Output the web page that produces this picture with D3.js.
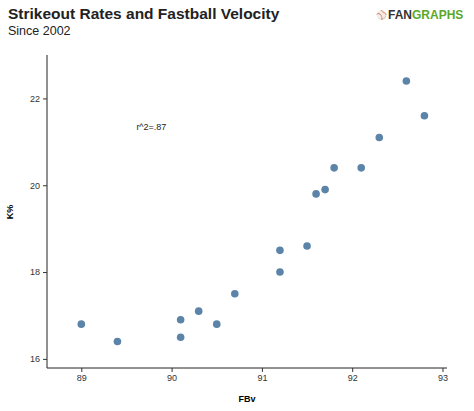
<!DOCTYPE html><html><head><meta charset="utf-8"><script src="https://cdn.jsdelivr.net/npm/d3@7"></script>
<style>body{margin:0;background:#fff}text{font-family:"Liberation Sans",Arial,sans-serif}</style></head><body><svg id="c" width="474" height="411"></svg>
<script>
const fbv=[89.0,89.4,90.1,90.1,90.3,90.5,90.7,91.2,91.2,91.5,91.6,91.7,91.8,92.1,92.3,92.6,92.8];
const kpct=[16.8,16.4,16.9,16.5,17.1,16.8,17.5,18.0,18.5,18.6,19.8,19.9,20.4,20.4,21.1,22.4,21.6];
const xTicks=[89,90,91,92,93], yTicks=[16,18,20,22];
const svg=d3.select("#c");
const x=d3.scaleLinear().domain([88.62,93.05]).range([47,447]);
const y=d3.scaleLinear().domain([15.79,23]).range([368,55]);
svg.append("text").attr("x",8).attr("y",19).attr("font-size",15.5).attr("font-weight","bold").attr("fill","#222").text("Strikeout Rates and Fastball Velocity");
svg.append("text").attr("x",8).attr("y",35).attr("font-size",12.5).attr("fill","#222").text("Since 2002");
const lg=svg.append("text").attr("x",388).attr("y",19).attr("font-size",12).attr("font-weight","bold");
lg.append("tspan").attr("fill","#333").text("FAN");lg.append("tspan").attr("fill","#5ba829").text("GRAPHS");
svg.append("text").attr("x",376).attr("y",18).attr("font-size",9).attr("font-weight","bold").attr("fill","#5ba829").text("⚾");
const xa=svg.append("g").attr("transform","translate(0,368)").call(d3.axisBottom(x).tickValues(xTicks).tickFormat(d3.format("d")).tickSize(4));
const ya=svg.append("g").attr("transform","translate(47,0)").call(d3.axisLeft(y).tickValues(yTicks).tickFormat(d3.format("d")).tickSize(4));
[xa,ya].forEach(a=>{a.select(".domain").attr("stroke","#222");a.selectAll("text").attr("font-size",9).attr("fill","#333");a.selectAll("line").attr("stroke","#333");});
xa.select(".domain").attr("d","M47,0H447");ya.select(".domain").attr("d","M0,55V368");
svg.append("text").attr("x",247).attr("y",402).attr("text-anchor","middle").attr("font-size",9).attr("font-weight","bold").text("FBv");
svg.append("text").attr("transform","translate(13,212) rotate(-90)").attr("text-anchor","middle").attr("font-size",9).attr("font-weight","bold").text("K%");
svg.append("text").attr("x",x(89.61)).attr("y",y(21.28)).attr("font-size",9).attr("fill","#222").text("r^2=.87");
svg.selectAll("circle").data(fbv).join("circle").attr("cx",d=>x(d)).attr("cy",(d,i)=>y(kpct[i])).attr("r",3.8).attr("fill","#5b84a8");
</script></body></html>
